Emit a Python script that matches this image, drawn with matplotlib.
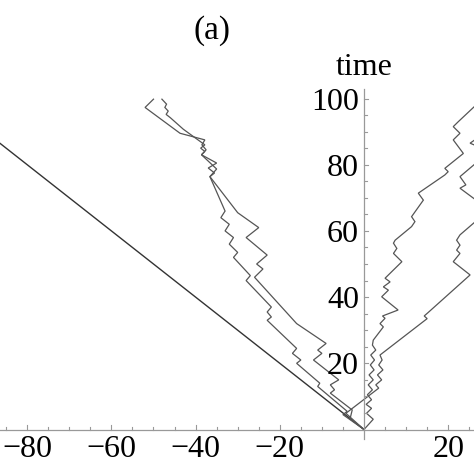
import matplotlib
matplotlib.use("Agg")
import matplotlib.pyplot as plt
from matplotlib.ticker import MultipleLocator

# ---- data (x position, time) ----
cone_x = [0, -100]
cone_t = [0, 100]

walk_a_x = [0, -5, -4, -11, -10.5, -16, -15, -17, -16, -23, -22, -23, -22, -28, -27, -31, -30, -32, -31,
            -33, -32, -34, -33, -36.6, -35, -38.6, -37.5, -38.5, -37.8, -43.7, -52, -50]
walk_a_t = [0, 4.5, 5.5, 13, 14, 20, 21, 23, 24.5, 33, 34, 35.5, 37, 45, 46.5, 52, 53.5, 56, 58,
            60, 62, 64, 66, 76.4, 78.7, 83, 84.5, 86, 87.5, 89.5, 97.3, 99.8]

walk_b_x = [0, -3.3, -2.8, -8, -7, -8, -6, -12, -10, -11, -9, -16, -26, -24, -25.5, -23, -28, -25, -30,
            -36.6, -35.5, -37, -35, -38.6, -37.8, -38.8, -37.8, -42.9, -46, -47, -46.5, -47.3, -46.9, -48]
walk_b_t = [0, 3.3, 5.9, 11, 12, 13.5, 15, 21, 23, 24, 26, 32, 46, 48.5, 50, 52.7, 58, 61, 65.5,
            76.4, 77.5, 79, 80.5, 83, 84, 85, 86, 90.7, 94.2, 95.2, 96.2, 97.3, 98.3, 99.8]

walk_c_x = [0, -4.3, 3.5, 2.8, 4.2, 3.2, 4.5, 3.5, 4.3, 3.8, 15, 14.3, 15.2, 25.2, 21.2, 22.8, 22, 22.8,
            22, 22.8, 28, 28, 22.8, 24.2, 22.8, 28, 28, 25.2, 28]
walk_c_t = [0, 4.9, 12.5, 13.5, 15, 16.5, 18, 19.5, 21, 22.5, 33.5, 34.3, 35.3, 46.7, 50.7, 53.2, 54.2, 55.7,
            57.2, 58.8, 64.5, 68, 72.9, 73.9, 76.4, 82, 85, 86.5, 89]

walk_d_x = [0, 2.2, 0.6, 1.8, 0.5, 1.8, 0.8, 2, 1, 2.2, 1.2, 2.4, 1.5, 2.5, 1.6, 2.8, 2, 2.2, 4.6, 3.8, 5,
            4.4, 8.1, 4.2, 5.8, 4.6, 6.2, 5, 9, 7, 7.8, 7, 7.4, 11.3, 12.1, 11.3, 14.1, 12.9, 19.2, 20, 19.2,
            23.6, 21.2, 22.8, 21.2, 22.4, 27]
walk_d_t = [0, 3.1, 4.9, 6.4, 7.6, 9, 10.5, 12, 13.5, 15, 16.5, 18, 19.5, 21, 22.5, 24, 25.5, 27, 31, 32, 33.6,
            34.3, 36.1, 40.1, 42.1, 43.1, 44.6, 45.7, 50.7, 53.2, 54.7, 56.3, 57.2, 61.3, 62.8, 64.3, 69.3, 71.4,
            76.9, 77.9, 78.9, 83.4, 87.5, 89.5, 91.5, 93, 98.5]

x_major = [-80, -60, -40, -20, 20]
x_labels = ["\u221280", "\u221260", "\u221240", "\u221220", "20"]
y_major = [20, 40, 60, 80, 100]
y_labels = ["20", "40", "60", "80", "100"]

# ---- figure ----
fig = plt.figure(figsize=(4.74, 4.74), dpi=100)
ax = fig.add_axes([0, 0, 1, 1])
ax.set_xlim(-86.46, 26.13)
ax.set_ylim(-13.44, 129.76)
ax.axis("off")

walk_col = "#555555"
ax.plot(cone_x, cone_t, color="#333333", lw=1.0, solid_joinstyle="miter")
for xs, ts in [(walk_a_x, walk_a_t), (walk_b_x, walk_b_t), (walk_c_x, walk_c_t), (walk_d_x, walk_d_t)]:
    ax.plot(xs, ts, color=walk_col, lw=0.9, solid_joinstyle="miter")

axis_col = "#999999"
# axes lines
ax.plot([-100, 100], [0, 0], color=axis_col, lw=0.9, zorder=3)
ax.plot([0, 0], [-3, 103], color=axis_col, lw=0.9, zorder=3)

# ticks (pointing into the positive quadrant)
px_x = 4.21  # px per x unit
px_y = 3.31  # px per t unit
for v in range(-85, 27, 5):
    if v == 0:
        continue
    L = 4.5 if v % 20 == 0 else 2.8
    ax.plot([v, v], [0, L / px_y], color=axis_col, lw=0.8, zorder=3)
for v in range(5, 103, 5):
    L = 4.5 if v % 20 == 0 else 2.8
    ax.plot([0, L / px_x], [v, v], color=axis_col, lw=0.8, zorder=3)

font = dict(family=["Liberation Serif", "DejaVu Serif"], fontsize=23)
for v, s in zip(x_major, x_labels):
    ax.text(v, -1.6, s, ha="center", va="top", **font)
for v, s in zip(y_major, y_labels):
    ax.text(-1.2, v, s, ha="right", va="center_baseline", **font)

ax.text(0, 107, "time", ha="center", va="baseline", **font)
ax.text(-36, 118, "(a)", ha="center", va="baseline", family=["Liberation Serif"], fontsize=24)

fig.savefig("out.png", dpi=100)
